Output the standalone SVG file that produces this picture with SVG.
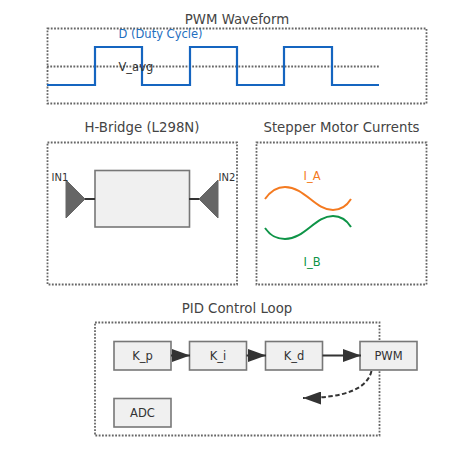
<svg xmlns="http://www.w3.org/2000/svg" width="474" height="474" viewBox="0 0 474 474">
<defs>
<marker id="arr" markerUnits="userSpaceOnUse" markerWidth="18" markerHeight="13" refX="18" refY="6.500" orient="auto"><path d="M0,0L18,6.500L0,13Z" fill="#333"/></marker>
</defs>
<style>
text{font-family:"DejaVu Sans",sans-serif;fill:#333}
.t{font-size:13.300px;text-anchor:middle;fill:#444}
.f{fill:none;stroke:#666;stroke-width:1.800;stroke-dasharray:1.800 1.500}
.b{fill:#f0f0f0;stroke:#777;stroke-width:1.600}
.l{font-size:11.500px;text-anchor:middle}
.c{fill:none;stroke:#333;stroke-width:2}
.tri{fill:#666;stroke:#666;stroke-width:1}
</style>
<rect width="474" height="474" fill="#fff"/>
<g id="pwm-panel">
<text class="t" x="237" y="24">PWM Waveform</text>
<rect class="f" x="47.500" y="28.500" width="379" height="75"/>
<path d="M47,66.500H379" class="f"/>
<path d="M47,85H95V47H142V85H190V47H237V85H284V47H332V85H379" fill="none" stroke="#1565c0" stroke-width="2.200"/>
<text x="118.500" y="38" font-size="11.500" style="fill:#1f6fc0">D (Duty Cycle)</text>
<text x="118.500" y="71" font-size="11.500">V_avg</text>
</g>
<g id="hbridge-panel">
<text class="t" x="142" y="132">H-Bridge (L298N)</text>
<rect class="f" x="47.500" y="142.500" width="189.500" height="142"/>
</g>
<g id="hbridge"><rect class="b" x="95" y="170.500" width="94.500" height="56.500"/></g>
<g id="in1">
<path class="c" d="M85,199H95"/>
<path class="tri" d="M66,180L85,199L66,218Z"/>
<text x="51.500" y="181" font-size="10">IN1</text>
</g>
<g id="in2">
<path class="c" d="M189,199H199"/>
<path class="tri" d="M218,180L199,199L218,218Z"/>
<text x="218.500" y="181" font-size="10">IN2</text>
</g>
<g id="stepper-panel">
<text class="t" x="341.500" y="132">Stepper Motor Currents</text>
<rect class="f" x="256.500" y="142.500" width="170" height="142"/>
<path d="M265,199C272,189 279,187 285,187C305,187 315,210 333,210C340,210 346,207 351,199" fill="none" stroke="#f47a20" stroke-width="2"/>
<path d="M265,228C272,238 279,239 285,239C305,239 315,216 333,216C340,216 346,219 351,227" fill="none" stroke="#0e9447" stroke-width="2"/>
<text x="312" y="180" font-size="11.500" text-anchor="middle" style="fill:#f47a20">I_A</text>
<text x="312" y="266" font-size="11.500" text-anchor="middle" style="fill:#0e9447">I_B</text>
</g>
<g id="pid-panel">
<text class="t" x="237" y="313">PID Control Loop</text>
<rect class="f" x="95" y="322.500" width="284.500" height="113"/>
</g>
<g id="kp"><rect class="b" x="114" y="341.500" width="57" height="28.500"/><text class="l" x="142.500" y="360">K_p</text></g>
<g id="ki"><rect class="b" x="189.500" y="341.500" width="57" height="28.500"/><text class="l" x="218" y="360">K_i</text></g>
<g id="kd"><rect class="b" x="265.500" y="341.500" width="57" height="28.500"/><text class="l" x="294" y="360">K_d</text></g>
<g id="pwm"><rect class="b" x="360" y="341.500" width="57" height="28.500"/><text class="l" x="388.500" y="360">PWM</text></g>
<g id="adc"><rect class="b" x="114" y="398.500" width="57" height="28.500"/><text class="l" x="142.500" y="417">ADC</text></g>
<g id="connectors">
<path class="c" d="M171,355.500H190" marker-end="url(#arr)"/>
<path class="c" d="M246.500,355.500H266" marker-end="url(#arr)"/>
<path class="c" d="M322.500,355.500H361" marker-end="url(#arr)"/>
<path class="c" d="M371.500,371Q365,398 303,398" stroke-dasharray="4.500 2.500" marker-end="url(#arr)"/>
</g>
</svg>
